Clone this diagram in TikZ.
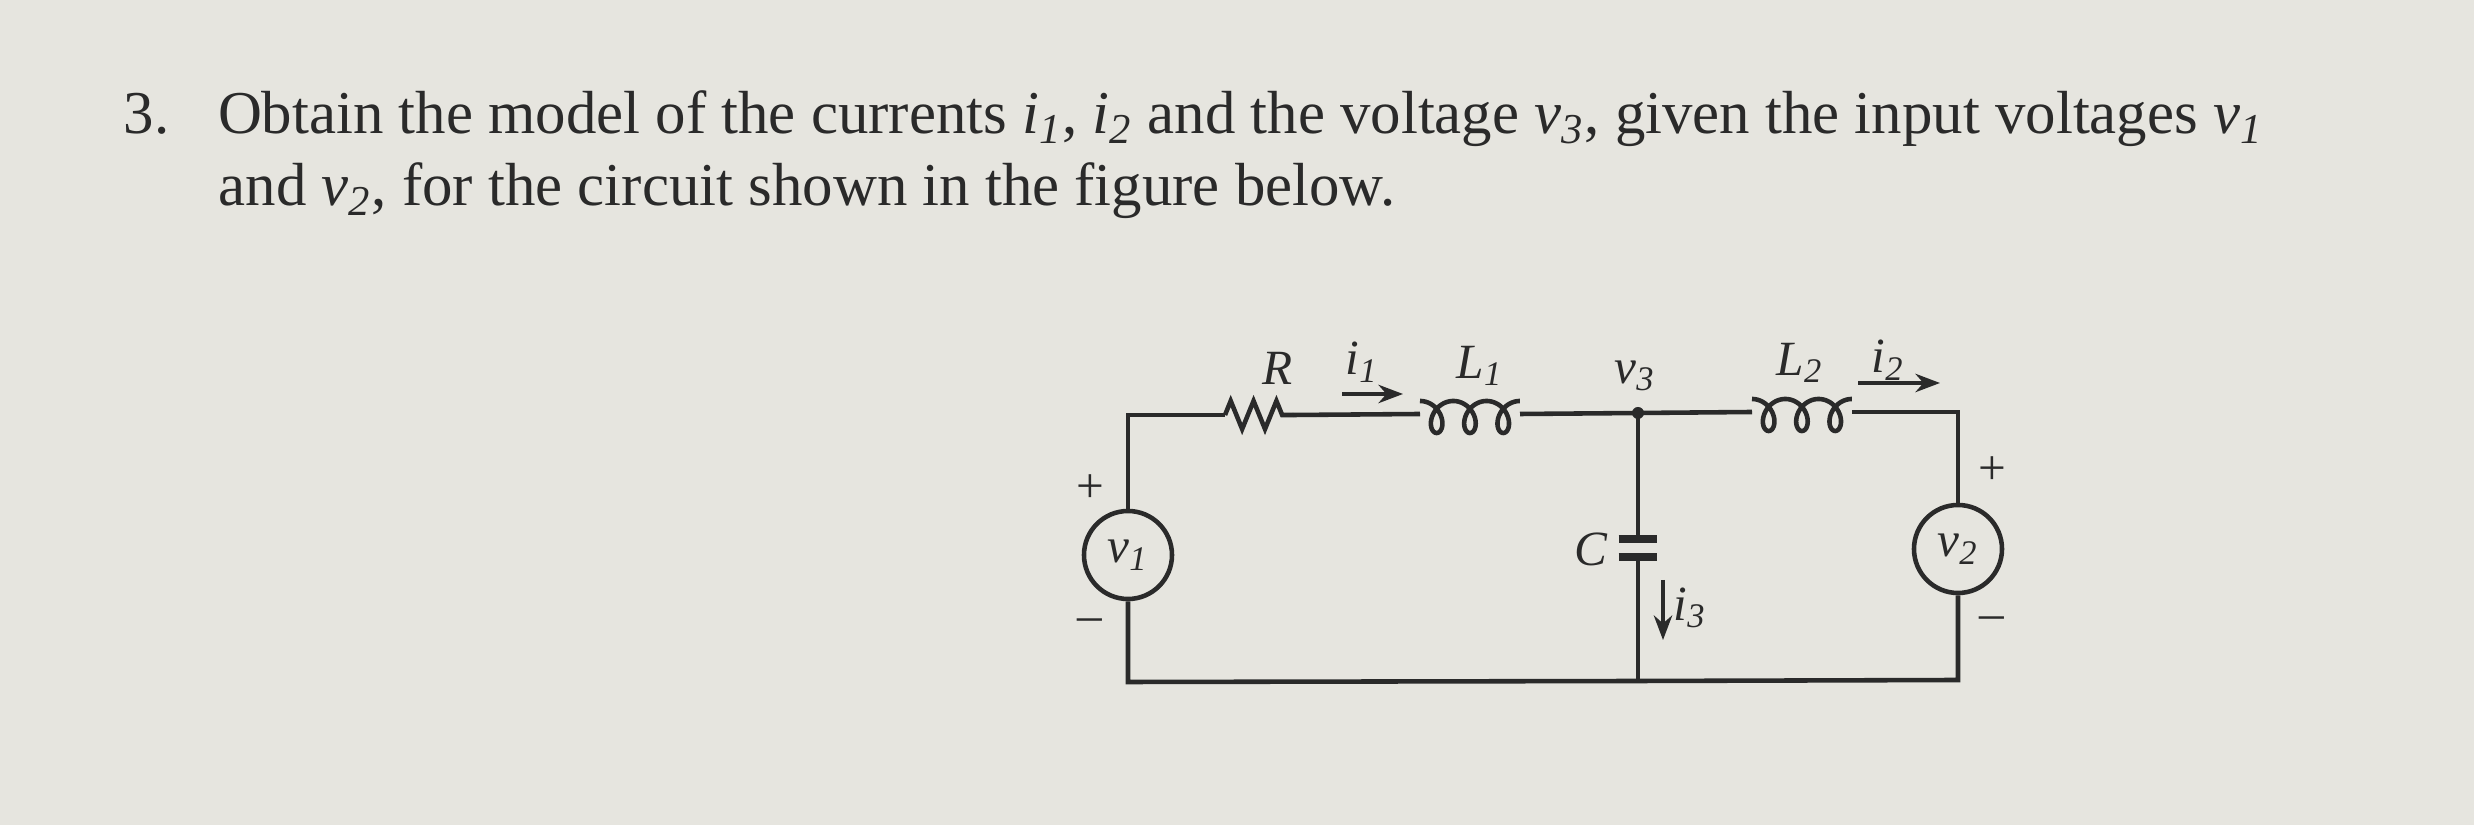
\documentclass[tikz,border=0pt]{standalone}
\usepackage{fontspec}
\setmainfont{Liberation Serif}
\usetikzlibrary{decorations.pathmorphing,arrows.meta}
\definecolor{bg}{HTML}{E6E5DF}
\definecolor{ink}{HTML}{2A2A2A}
\begin{document}
\begin{tikzpicture}[x=0.01cm,y=-0.01cm,
  wire/.style={ink,line width=1.3pt},
  lbl/.style={font=\fontsize{14}{16}\selectfont\itshape,text=ink,inner sep=0},
  sgn/.style={font=\fontsize{14}{16}\selectfont,text=ink,inner sep=0},
  src/.style={circle,draw=ink,line width=1.3pt,minimum size=88*0.01cm,inner sep=0,font=\fontsize{14}{16}\selectfont\itshape,text=ink,fill=bg},
  cur/.style={ink,line width=0.9pt,-{Stealth[length=7pt]}}]
\fill[bg] (0,0) rectangle (2474,825);
\node[anchor=base west,font=\fontsize{17.3}{21}\selectfont,text=ink,inner sep=0] (t1) at (123,134)
 {3.\hspace{0.8em}Obtain the model of the currents \textit{i\textsubscript{1}}, \textit{i\textsubscript{2}} and the voltage \textit{v\textsubscript{3}}, given the input voltages \textit{v\textsubscript{1}}};
\node[anchor=base west,font=\fontsize{17.3}{21}\selectfont,text=ink,inner sep=0] (t2) at (218,206)
 {and \textit{v\textsubscript{2}}, for the circuit shown in the figure below.};
% coordinates
\coordinate (tl) at (1128,415);
\coordinate (bl) at (1128,682);
\coordinate (tr) at (1958,412);
\coordinate (br) at (1958,680);
\coordinate (n3) at (1638,413);
\coordinate (b3) at (1638,681);
\node[src] (v1) at (1128,555) {v\textsubscript{1}};
\node[src] (v2) at (1958,549) {v\textsubscript{2}};
\coordinate (ra) at (1225,415);
\coordinate (rb) at (1293,415);
\coordinate (l1a) at (1420,414);
\coordinate (l1b) at (1520,414);
\coordinate (l2a) at (1752,412);
\coordinate (l2b) at (1852,412);
\coordinate (ca) at (1638,539);
\coordinate (cb) at (1638,557);
\draw[wire] (v1.north) -- (tl) -- (ra);
\draw[wire,decorate,decoration={zigzag,segment length=6.5pt,amplitude=4pt}] (ra) -- (rb);
\draw[wire] (rb) -- (l1a);
\draw[wire,line join=round] plot[domain=180:1260,samples=240,variable=\t,smooth] ({1420+5.3*(\t*pi/180-pi)-13*sin(\t)},{401+16*(1+cos(\t))});
\draw[wire] (l1b) -- (n3) -- (l2a);
\draw[wire,line join=round] plot[domain=180:1260,samples=240,variable=\t,smooth] ({1752+5.3*(\t*pi/180-pi)-13*sin(\t)},{399+16*(1+cos(\t))});
\draw[wire] (l2b) -- (tr) -- (v2.north);
\draw[wire] (v2.south) -- (br) -- (b3) -- (bl) -- (v1.south);
\draw[wire] (n3) -- (ca);
\draw[wire] (cb) -- (b3);
\draw[ink,line width=2pt] ([xshift=-5.5pt]ca) -- ([xshift=5.5pt]ca);
\draw[ink,line width=2pt] ([xshift=-5.5pt]cb) -- ([xshift=5.5pt]cb);
\fill[ink] (n3) circle (6);
% labels
\node[lbl] (R) at (1278,368) {R};
\node[lbl] (i1) at (1362,362) {i\textsubscript{1}};
\coordinate (i1a) at (1342,394); \coordinate (i1b) at (1403,394);
\draw[cur] (i1a) -- (i1b);
\node[lbl] (L1) at (1480,366) {L\textsubscript{1}};
\node[lbl] (v3) at (1635,376) {v\textsubscript{3}};
\node[lbl] (L2) at (1800,363) {L\textsubscript{2}};
\node[lbl] (i2) at (1888,360) {i\textsubscript{2}};
\coordinate (i2a) at (1858,383); \coordinate (i2b) at (1940,383);
\draw[cur] (i2a) -- (i2b);
\node[lbl] (C) at (1591,549) {C};
\coordinate (i3a) at (1663,580); \coordinate (i3b) at (1663,640);
\draw[cur] (i3a) -- (i3b);
\node[lbl] (i3) at (1690,608) {i\textsubscript{3}};
\node[sgn] (p1) at (1090,489) {+};
\node[sgn] (m1) at (1090,625) {\textendash};
\node[sgn] (p2) at (1992,471) {+};
\node[sgn] (m2) at (1992,623) {\textendash};
\end{tikzpicture}
\end{document}
